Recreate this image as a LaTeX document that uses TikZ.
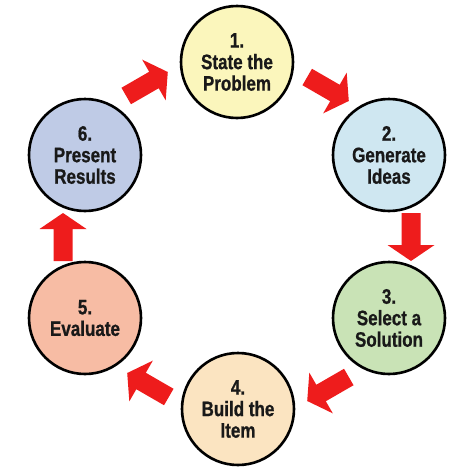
\documentclass[tikz,border=0pt]{standalone}
\usepackage{fontspec}
\setmainfont{Liberation Sans}[FakeStretch=0.81, BoldFeatures={FakeBold=0.8}]
\definecolor{cone}{HTML}{FBF6BC}
\definecolor{ctwo}{HTML}{CFE7F1}
\definecolor{cthree}{HTML}{C9E3B6}
\definecolor{cfour}{HTML}{FBE4C1}
\definecolor{cfive}{HTML}{F7BCA4}
\definecolor{csix}{HTML}{BFCBE6}
\definecolor{arrred}{HTML}{EE1C1C}
\tikzset{
  stage/.style={circle, draw=black, line width=2.6pt, minimum size=112pt, inner sep=0pt,
    align=center, font=\bfseries\fontsize{21pt}{21.5pt}\selectfont, text=black!90},
  blockarrow/.pic={\fill[arrred] (-24,-9.5) -- (8,-9.5) -- (8,-23.5) -- (24,0) -- (8,23.5) -- (8,9.5) -- (-24,9.5) -- cycle;}
}
\begin{document}
\begin{tikzpicture}[x=1pt,y=-1pt]
\useasboundingbox[fill=white] (0,0) rectangle (474,474);
\node[stage, fill=cone]   (s1) at (237,62)  {1.\\State the\\Problem};
\node[stage, fill=ctwo]   (s2) at (389,155) {2.\\Generate\\Ideas};
\node[stage, fill=cthree] (s3) at (389,318) {3.\\Select a\\Solution};
\node[stage, fill=cfour]  (s4) at (238,409) {4.\\Build the\\Item};
\node[stage, fill=cfive]  (s5) at (85,318)  {5.\\Evaluate};
\node[stage, fill=csix]   (s6) at (85,155)  {6.\\Present\\Results};
\coordinate (a12) at (328,89);
\coordinate (a23) at (411,237);
\coordinate (a34) at (328,389);
\coordinate (a45) at (148,385);
\coordinate (a56) at (63,237);
\coordinate (a61) at (147,84);
\pic[rotate=-30] at (a12) {blockarrow};
\pic[rotate=-90] at (a23) {blockarrow};
\pic[rotate=210] at (a34) {blockarrow};
\pic[rotate=150] at (a45) {blockarrow};
\pic[rotate=90]  at (a56) {blockarrow};
\pic[rotate=30]  at (a61) {blockarrow};
\end{tikzpicture}
\end{document}
